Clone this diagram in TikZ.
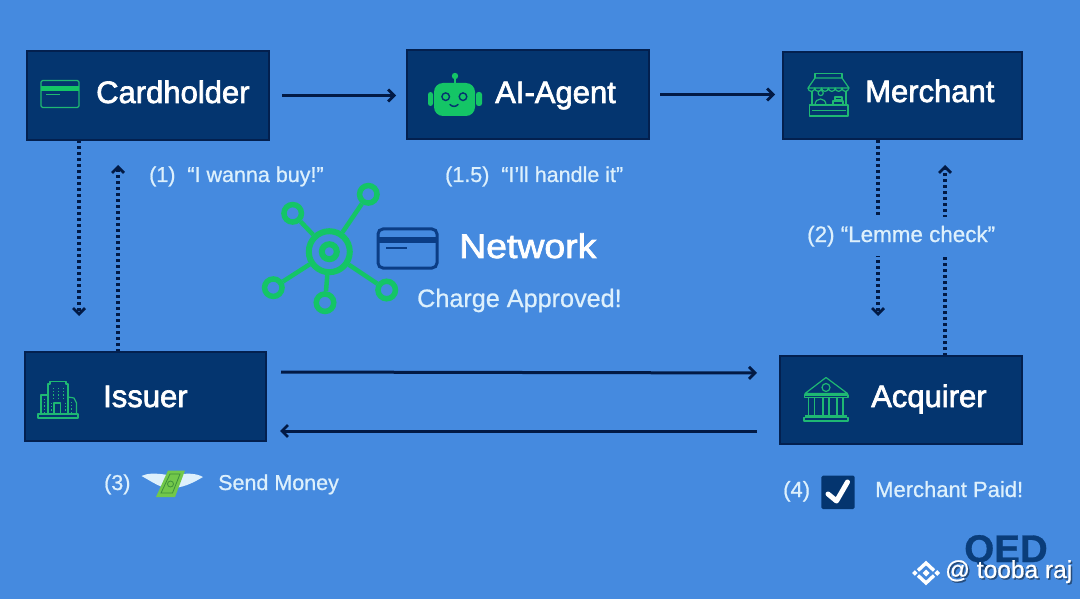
\documentclass[tikz,border=0pt]{standalone}
\usepackage{fontspec}
\setmainfont[FakeBold=0.8]{Liberation Sans}
\newfontfamily\medfont[FakeBold=2.2]{Liberation Sans}
\newfontfamily\netfont[FakeBold=2.2,FakeStretch=1.1]{Liberation Sans}
\usetikzlibrary{arrows.meta,calc}
\definecolor{bg}{HTML}{458ADF}
\definecolor{boxfill}{HTML}{04356F}
\definecolor{boxline}{HTML}{03204F}
\definecolor{arrowc}{HTML}{021A45}
\definecolor{gr}{HTML}{14C566}
\definecolor{grl}{HTML}{1FB873}
\definecolor{lab}{HTML}{DDF0FC}
\definecolor{netblue}{HTML}{0B3D85}
\definecolor{bill}{HTML}{72C84A}
\definecolor{billd}{HTML}{3E8F3A}
\tikzset{
 x=1pt,y=-1pt,
 partybox/.style={draw=boxline,line width=2.4pt,fill=boxfill,inner sep=0pt,outer sep=0pt},
 title/.style={anchor=base west,text=white,inner sep=0pt,font=\fontsize{31}{31}\selectfont\medfont},
 small/.style={anchor=base west,text=lab,inner sep=0pt,font=\fontsize{21.5}{21.5}\selectfont},
 flow/.style={draw=arrowc,line width=3pt,-{Straight Barb[length=6pt,width=12pt,line width=2.8pt]}},
 dotflow/.style={draw=arrowc,line width=3.2pt,dash pattern=on 3pt off 3pt,-{Straight Barb[length=6pt,width=12pt,line width=2.8pt]}},
 ico/.style={draw=grl,line width=1.2pt,line join=round},
}
\begin{document}
\begin{tikzpicture}
\useasboundingbox (0,0) rectangle (1080,599);
\fill[bg] (0,0) rectangle (1080,599);
% free connector ends
\coordinate (cardout) at (79,140);
\coordinate (cardin) at (118,165);
\coordinate (issin) at (79,316);
\coordinate (issout) at (118,352);
\coordinate (merout) at (878,140);
\coordinate (merin) at (945,165);
\coordinate (acqin) at (878,316);
\coordinate (acqout) at (945,356);
% dotted connectors
\draw[dotflow] (cardout) -- (issin);
\draw[dotflow] (issout) -- (cardin);
\draw[dotflow] (merout) -- (acqin);
\draw[dotflow] (acqout) -- (merin);
% boxes
\node[partybox,minimum width=242pt,minimum height=89pt] (card) at (148,95.5) {};
\node[partybox,minimum width=242pt,minimum height=89pt] (agent) at (528,94.5) {};
\node[partybox,minimum width=239pt,minimum height=87pt] (merch) at (902.5,95.5) {};
\node[partybox,minimum width=241pt,minimum height=89pt] (issuer) at (145.5,396.5) {};
\node[partybox,minimum width=242pt,minimum height=88pt] (acq) at (901,400) {};
% titles
\node[title] (tcard) at (96,103) {Cardholder};
\node[title] (tagent) at (495,103) {AI-Agent};
\node[title] (tmerch) at (865,102) {Merchant};
\node[title] (tissuer) at (103,407) {Issuer};
\node[title] (tacq) at (871,407) {Acquirer};
% connectors
\draw[flow,shorten <=13pt,shorten >=11pt] (card.east) -- (card.east -| agent.west);
\draw[flow,shorten <=11pt,shorten >=8pt] (agent.east) -- (agent.east -| merch.west);
\draw[flow,shorten <=15pt,shorten >=23pt] ([yshift=24.5pt]issuer.east) -- ([yshift=27pt]acq.west);
\draw[flow,shorten <=23pt,shorten >=14pt] ([yshift=-31pt]acq.west) -- ([yshift=-34.5pt]issuer.east);
% labels
\node[small] (l1) at (149,182) {(1)\ \ “I wanna buy!”};
\node[small] (l15) at (445,182) {(1.5)\ \ “I’ll handle it”};
\fill[bg] (806,217) rectangle (996,256);
\node[small,font=\fontsize{22.4}{22.4}\selectfont] (l2) at (807,242) {(2) “Lemme check”};
\node[small] (l3) at (104,490) {(3)};
\node[small] (l3b) at (218,490) {Send Money};
\node[small,font=\fontsize{22}{22}\selectfont] (l4) at (783,497) {(4)};
\node[small,font=\fontsize{22}{22}\selectfont] (l4b) at (875,497) {Merchant Paid!};
\node[title,font=\fontsize{34}{34}\selectfont\netfont] (tnet) at (459,258) {Network};
\node[small,font=\fontsize{25.2}{25.2}\selectfont] (lapp) at (417,307) {Charge Approved!};
% card icon
\draw[ico] (41,80.5) [rounded corners=1.5pt] rectangle (79,107.5);
\fill[gr] (41,86) rectangle (79,91);
\draw[grl,line width=1pt] (46,94.5) -- (60,94.5);
% robot icon
\fill[gr] (455,76) circle (3.2pt);
\draw[gr,line width=1.8pt] (455,76) -- (455,84);
\fill[gr,rounded corners=9pt] (434,83) rectangle (475,116);
\fill[gr,rounded corners=2.5pt] (428,92) rectangle (433,106);
\fill[gr,rounded corners=2.5pt] (476,92) rectangle (482,106);
\draw[boxfill,line width=1.4pt] (445.7,96.7) circle (3.8pt) (463,96.7) circle (3.8pt);
\draw[boxfill,line width=1.5pt,line cap=round] (450,104.5) .. controls (452,107) and (456,107) .. (458,104.5);
% stall icon
\draw[ico] (815,78) -- (815,73.5) -- (842,73.5) -- (842,78);
\draw[ico] (815,78) -- (842,78) -- (849,88) -- (808,88) -- cycle;
\draw[ico] (808,88) arc[start angle=180,end angle=360,radius=3.4pt]
 arc[start angle=180,end angle=360,radius=3.4pt]
 arc[start angle=180,end angle=360,radius=3.4pt]
 arc[start angle=180,end angle=360,radius=3.4pt]
 arc[start angle=180,end angle=360,radius=3.4pt]
 arc[start angle=180,end angle=360,radius=3.4pt];
\draw[ico] (812,91) -- (812,106) (846,91) -- (846,106);
\draw[ico] (809.5,105) rectangle (848,116);
\draw[ico] (820.7,93) circle (2.6pt);
\draw[ico] (815,105) .. controls (815,97) and (826,97) .. (826,105);
\draw[ico] (835,97) rectangle (842,100) (833,101) rectangle (843,105);
\draw[grl,line width=.7pt] (812,110.5) -- (846,110.5);
% network icon
\node[draw=gr,line width=6pt,circle,minimum size=41pt,inner sep=0pt] (hub) at (329.3,251.7) {};
\draw[gr,line width=6pt] (329.3,251.7) circle (7.5pt);
\foreach \n/\px/\py in {s1/368.3/194.3,s2/292.7/213.3,s3/273.3/287.7,s4/325/302.7,s5/386.7/290}{
 \node[draw=gr,line width=5.5pt,circle,minimum size=17.5pt,inner sep=0pt] (\n) at (\px,\py) {};
}
\draw[gr,line width=4.5pt] (hub) -- (s1) (hub) -- (s2) (hub) -- (s3) (hub) -- (s4) (hub) -- (s5);
% blue card
\draw[netblue,line width=3pt,rounded corners=5pt] (378,229) rectangle (437,268);
\fill[netblue] (378,236.7) rectangle (437,243.3);
\draw[netblue,line width=1.4pt] (386,248) -- (407,248);
% building icon
\draw[ico] (48,414) -- (48,384) -- (50,384) -- (50,381.5) -- (66,381.5) -- (66,384) -- (68,384) -- (68,414);
\draw[ico] (48,395) -- (41,395) -- (41,414);
\draw[ico] (68,397) -- (74,398) -- (76.5,403) -- (76.5,414);
\draw[ico] (38,414) rectangle (78,418);
\draw[ico] (54,414) -- (54,403) -- (60.5,403) -- (60.5,414);
\draw[grl,line width=.9pt,dash pattern=on 1.2pt off 2pt]
 (53,388) -- (53,400) (58,388) -- (58,400) (63,388) -- (63,400)
 (44,399) -- (44,412) (71,402) -- (71,412) (65,403) -- (65,412) (51,403) -- (51,412);
% money with wings
\fill[lab] (165,488) .. controls (156,485) and (149,480) .. (141.5,476) .. controls (148,473) and (155,473) .. (168,475) -- cycle;
\fill[lab] (174,488) .. controls (186,487) and (196,481) .. (203,477) .. controls (196,473) and (186,473) .. (176,475) -- cycle;
\fill[bill] (168,470.5) -- (185,470.5) -- (175,497) -- (156,497) -- cycle;
\draw[billd,line width=.8pt] (170,474) -- (180,474) -- (172.5,493) -- (161,493) -- cycle;
\draw[billd,line width=.8pt] (170.5,484) circle (3pt);
% bank icon
\draw[ico] (805,393.5) -- (826,377.5) -- (847.5,393.5) -- cycle;
\draw[ico] (826,387.5) circle (4pt);
\draw[ico] (804.5,395) rectangle (848,397.5);
\foreach \cx in {811.7,826,840}{\draw[ico] (\cx-3,397.5) rectangle (\cx+3,416);}
\draw[ico] (805,416) -- (847,416);
\draw[ico] (804,417.5) rectangle (848,421);
% check box
\fill[boxfill,rounded corners=1.5pt] (821.3,475.7) rectangle (854.7,509);
\draw[white,line width=5pt,line cap=round,line join=round] (828,494) -- (836.5,501) -- (847.5,482);
% QED + watermark
\node[anchor=base,inner sep=0pt,text=boxfill!90!bg,font=\fontsize{38.5}{38.5}\selectfont\bfseries] (qed) at (1006,562) {QED};
\draw[white,line width=3.4pt,line join=miter] (918,570.5) -- (926,563) -- (934,570.5);
\draw[white,line width=3.4pt,line join=miter] (918,575.5) -- (926,583) -- (934,575.5);
\fill[white] (922.5,573) -- (926,569.5) -- (929.5,573) -- (926,576.5) -- cycle;
\fill[white] (912,573) -- (914.8,570.2) -- (917.6,573) -- (914.8,575.8) -- cycle;
\fill[white] (934.4,573) -- (937.2,570.2) -- (940,573) -- (937.2,575.8) -- cycle;
\node[anchor=base west,inner sep=0pt,text=black!45!bg,font=\fontsize{24.5}{24.5}\selectfont] at (946.5,579.5) {@ tooba raj};
\node[anchor=base west,inner sep=0pt,text=white,font=\fontsize{24.5}{24.5}\selectfont] (wm) at (945,578) {@ tooba raj};
\end{tikzpicture}
\end{document}
